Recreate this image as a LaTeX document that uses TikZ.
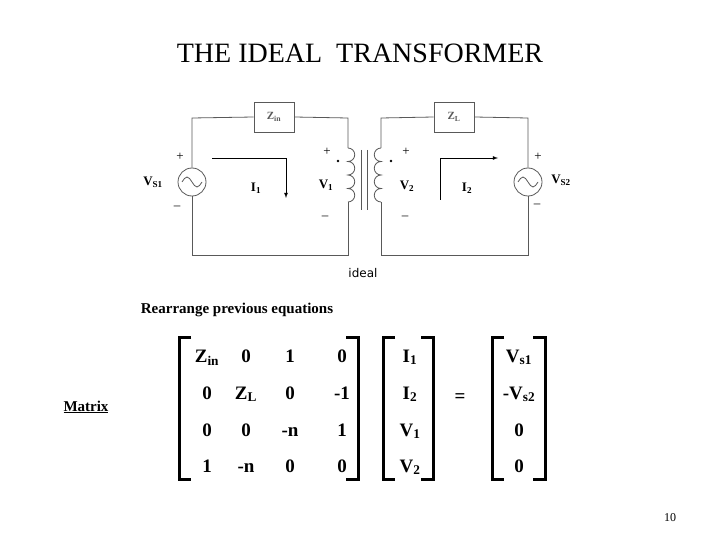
\documentclass[tikz,border=0pt]{standalone}
\usepackage{fontspec}
\setmainfont{Liberation Serif}
\newfontfamily\sansf{DejaVu Sans}
\begin{document}
\begin{tikzpicture}[x=1pt,y=-1pt,
 wire/.style={gray!70!black,line width=0.8pt},
 lab/.style={font=\fontsize{13}{14}\selectfont\bfseries,inner sep=0},
 pm/.style={font=\fontsize{13}{14}\selectfont,inner sep=0},
 brk/.style={line width=3pt},
 ent/.style={font=\fontsize{19}{20}\selectfont\bfseries,inner sep=0}]
\useasboundingbox (0,0) rectangle (720,540);
\node[font=\fontsize{28}{30}\selectfont] (title) at (360,53) {THE IDEAL\ \ TRANSFORMER};
% left loop
\node[draw,wire,minimum width=40pt,minimum height=30pt,inner sep=0] (zin) at (274,117) {\fontsize{11}{12}\selectfont\bfseries Z\textsubscript{in}};
\node[draw,wire,minimum width=40pt,minimum height=30pt,inner sep=0] (zl) at (454,117) {\fontsize{11}{12}\selectfont\bfseries Z\textsubscript{L}};
\node[draw,wire,circle,minimum size=28pt,inner sep=0] (s1) at (192,182) {};
\node[draw,wire,circle,minimum size=28pt,inner sep=0] (s2) at (528,182) {};
\draw[wire] (s1.north) -- (192,118) -- (zin.west);
\draw[wire] (zin.east) -- (348,118) -- (348,148);
\draw[wire] (s1.south) -- (192,255) -- (348,255) -- (348,202);
\draw[wire] (s2.north) -- (528,118) -- (zl.east);
\draw[wire] (zl.west) -- (381,118) -- (381,148);
\draw[wire] (s2.south) -- (528,255) -- (381,255) -- (381,202);
% sine symbols
\draw[wire] (182,182) sin (187,177) cos (192,182) sin (197,187) cos (202,182);
\draw[wire] (518,182) sin (523,177) cos (528,182) sin (533,187) cos (538,182);
% coils
\draw[wire] (348,148) foreach \i in {0,1,2,3} {arc[start angle=-90,end angle=90,radius=6.75]};
\draw[wire] (381,148) foreach \i in {0,1,2,3} {arc[start angle=270,end angle=90,radius=6.75]};
\draw[wire] (361,150) -- (361,210) (367,150) -- (367,210);
\fill (338,161) circle (1.3);
\fill (391,161) circle (1.3);
% currents
\coordinate (a1) at (212,158); \coordinate (a2) at (286,158); \coordinate (a3) at (286,198);
\draw[-latex,line width=0.8pt] (a1) -- (a2) -- (a3);
\coordinate (b1) at (440,200); \coordinate (b2) at (440,158); \coordinate (b3) at (498,158);
\draw[-latex,line width=0.8pt] (b1) -- (b2) -- (b3);
% labels
\node[lab] (lvs1) at (153,182) {V\textsubscript{S1}};
\node[pm] (p1) at (180,157) {+};
\node[pm] (m1) at (177,208) {\textendash};
\node[lab] (li1) at (256,188) {I\textsubscript{1}};
\node[lab] (lv1) at (326,185) {V\textsubscript{1}};
\node[pm] (p2) at (327,152) {+};
\node[pm] (m2) at (325,218) {\textendash};
\node[lab] (lv2) at (407,186) {V\textsubscript{2}};
\node[pm] (p3) at (406,152) {+};
\node[pm] (m3) at (405,218) {\textendash};
\node[lab] (li2) at (467,188) {I\textsubscript{2}};
\node[lab] (lvs2) at (561,180) {V\textsubscript{S2}};
\node[pm] (p4) at (538,157) {+};
\node[pm] (m4) at (537,206) {\textendash};
\node[font=\sansf\fontsize{12}{13}\selectfont] (ideal) at (363,273) {ideal};
% equations
\node[font=\fontsize{15}{16}\selectfont\bfseries] (rear) at (237,310) {Rearrange previous equations};
\node[font=\fontsize{15}{16}\selectfont\bfseries] (mat) at (86,407) {\underline{Matrix}};
\draw[brk] (191,337) -- (179,337) -- (179,479) -- (191,479);
\draw[brk] (346,337) -- (358,337) -- (358,479) -- (346,479);
\draw[brk] (395,337) -- (383,337) -- (383,479) -- (395,479);
\draw[brk] (421,337) -- (433,337) -- (433,479) -- (421,479);
\draw[brk] (504,337) -- (492,337) -- (492,479) -- (504,479);
\draw[brk] (533,337) -- (545,337) -- (545,479) -- (533,479);
\foreach \r/\y/\a/\b/\c/\d/\v/\w in {
 1/355/Z\textsubscript{in}/0/1/0/I\textsubscript{1}/V\textsubscript{s1},
 2/392/0/Z\textsubscript{L}/0/-1/I\textsubscript{2}/-V\textsubscript{s2},
 3/429/0/0/-n/1/V\textsubscript{1}/0,
 4/465/1/-n/0/0/V\textsubscript{2}/0}{
 \node[ent,anchor=base] (e\r a) at (207,\y+7) {\a};
 \node[ent,anchor=base] (e\r b) at (246,\y+7) {\b};
 \node[ent,anchor=base] (e\r c) at (290,\y+7) {\c};
 \node[ent,anchor=base] (e\r d) at (342,\y+7) {\d};
 \node[ent,anchor=base] (e\r v) at (410,\y+7) {\v};
 \node[ent,anchor=base] (e\r w) at (519,\y+7) {\w};
}
\node[ent] (eq) at (460,398) {=};
\node[font=\fontsize{12}{13}\selectfont] (pg) at (670,518) {10};
\end{tikzpicture}
\end{document}
